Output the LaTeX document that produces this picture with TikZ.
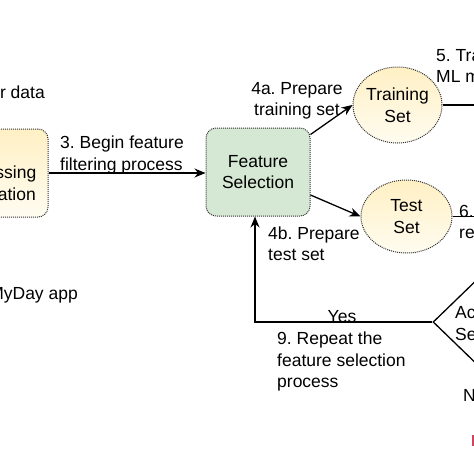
\documentclass[tikz,border=0pt]{standalone}
\usepackage{fontspec}
\setmainfont{Liberation Sans}
\usetikzlibrary{shapes.geometric,arrows.meta,calc}
\definecolor{ylwA}{HTML}{FFF0C4}
\definecolor{ylwB}{HTML}{FFFCF0}
\definecolor{grnfill}{HTML}{D5E8D4}
\definecolor{brd}{HTML}{333333}
\definecolor{redmark}{HTML}{D0455E}
\frenchspacing
\begin{document}
\begin{tikzpicture}[x=1pt,y=-1pt,
  every node/.style={font=\fontsize{17.5}{21.5}\selectfont, text=black},
  box/.style={draw=brd, densely dotted, line width=1pt, rounded corners=10pt, align=center, inner sep=0pt},
  ybox/.style={box, top color=ylwA, bottom color=ylwB},
  gbox/.style={box, fill=grnfill},
  ell/.style={ellipse, draw=brd, densely dotted, line width=1pt, top color=ylwA, bottom color=ylwB, align=center, inner sep=0pt},
  conn/.style={line width=1.3pt, draw=black},
  arr/.style={conn, -{Stealth[length=11pt,width=9pt]}},
  lbl/.style={align=left, inner sep=0pt},
]
\useasboundingbox (0,0) rectangle (474,474);
\clip (0,0) rectangle (474,474);
\fill[white] (0,0) rectangle (474,474);

% boxes
\node[ybox, minimum width=110pt, minimum height=88pt] (proc) at (-7,173) {\strut\\Processing\\Application};
\node[gbox, minimum width=104pt, minimum height=88pt] (fs) at (258,172) {Feature\\Selection};
\node[ell, minimum width=89pt, minimum height=76pt] (tr) at (397.5,105) {Training\\Set};
\node[ell, minimum width=91pt, minimum height=73pt] (te) at (406.5,216.5) {Test\\Set};
\node[diamond, draw=black, line width=1.3pt, minimum width=124pt, minimum height=120pt, inner sep=0pt] (dia) at (495,322) {};
\node[lbl, anchor=west] (diat) at (455,323.5) {Accept\\Selection?};

% free labels
\node[inner sep=0pt, anchor=base east] (l1) at (45,98) {user data};
\node[inner sep=0pt, anchor=base east] (l2) at (78,299) {MyDay app};

% connector labels
\node[lbl, anchor=west] (l3) at (60,155) {3. Begin feature\\filtering process};
\node[align=center, inner sep=0pt] (l4a) at (297,101) {4a. Prepare\\training set};
\node[lbl, anchor=west] (l4b) at (268,243.5) {4b. Prepare\\test set};
\node[lbl, anchor=west] (l5) at (436,65.5) {5. Train\\ML model};
\node[lbl, anchor=west] (l6) at (459,221.5) {6. Evaluate\\results};
\node[inner sep=0pt, anchor=base] (yes) at (342,322) {Yes};
\node[lbl, anchor=west] (l9) at (277,361.5) {9. Repeat the\\feature selection\\process};
\node[inner sep=0pt, anchor=base west] (no) at (463,401) {No};

\fill[redmark] (472,435) rectangle (476,446);

% connectors
\draw[arr] (proc.east) -- (proc.east -| fs.west);
\draw[arr] ([yshift=-7pt]fs.north east) -- (tr.west);
\draw[arr] ([yshift=-23pt]fs.east) -- (te.west);
\coordinate (e5) at (520,105);
\coordinate (e6) at (520,216.5);
\draw[conn] (tr.east) -- (e5);
\draw[conn] (te.east) -- (e6);
\draw[arr] (dia.west) -| ([xshift=-3pt]fs.south);
\end{tikzpicture}
\end{document}
